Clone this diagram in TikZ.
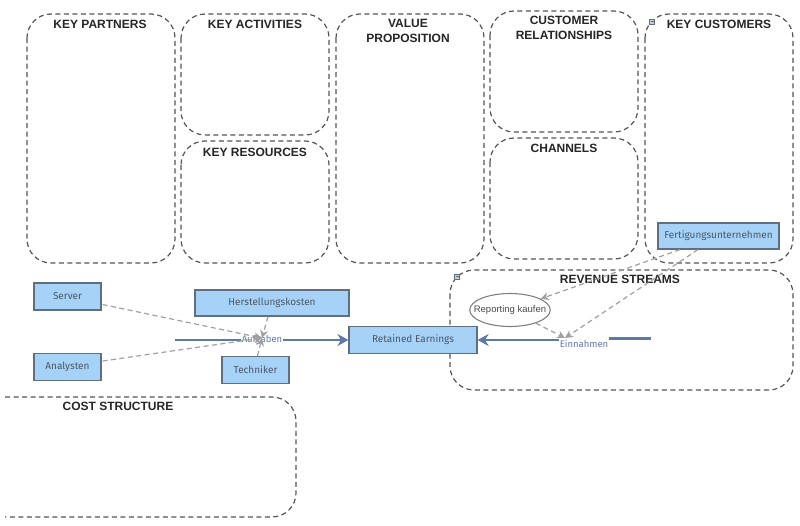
\documentclass[tikz,border=0pt]{standalone}
\usepackage{fontspec}
\setmainfont{Liberation Sans}
\newfontfamily\handfont{Fira Sans}
\usetikzlibrary{arrows.meta,shapes.geometric}
\definecolor{boxfill}{HTML}{A6D2F8}
\definecolor{boxline}{HTML}{5F6F80}
\definecolor{boxtext}{HTML}{4A5866}
\definecolor{flow}{HTML}{5F78A8}
\definecolor{areaink}{HTML}{555555}
\definecolor{linkink}{HTML}{A0A0A0}
\tikzset{
  area/.style={draw=areaink,line width=1.2pt,dash pattern=on 5pt off 3.5pt,rounded corners=24pt},
  areatitle/.style={font=\bfseries\fontsize{12}{14}\selectfont,text=black!85,align=center,inner sep=0pt},
  itembox/.style={draw=boxline,fill=boxfill,line width=1.2pt,font=\handfont\fontsize{10}{12}\selectfont,text=boxtext,inner sep=0pt},
  ovalbox/.style={draw=black!50,line width=1.1pt,ellipse,minimum height=33pt,inner xsep=-7.7pt,inner ysep=0pt,font=\fontsize{9.5}{11}\selectfont,text=black!70,fill=white},
  flowlabel/.style={font=\handfont\fontsize{9.5}{11}\selectfont,text=flow,fill=white,inner sep=1pt},
  flowline/.style={draw=flow,line width=2.6pt},
  flowarrow/.style={flowline,-{Stealth[length=11pt,width=12pt]}},
  linkarrow/.style={draw=linkink,line width=1.2pt,dash pattern=on 5pt off 3.5pt,-{Stealth[length=8pt,width=8pt]}},
  toggle/.style={draw=boxline,fill=black!20,line width=0.5pt,minimum size=5pt,inner sep=0pt}
}
\begin{document}
\begin{tikzpicture}[x=1pt,y=-1pt]
\useasboundingbox (0,0) rectangle (800,525);
\fill[white] (0,0) rectangle (800,525);
% areas
\draw[area] (27,14) rectangle (175,263);
\draw[area] (181,14) rectangle (329,135);
\draw[area] (181,141) rectangle (329,263);
\draw[area] (336,14) rectangle (484,263);
\draw[area] (490,11) rectangle (638,132);
\draw[area] (490,138) rectangle (638,259);
\draw[area] (645,14) rectangle (793,263);
\draw[area] (450,270) rectangle (793,390);
\draw[area] (5,397) -- (296,397) -- (296,517) -- (5,517);
% titles
\node[areatitle] (tpartners) at (100,24) {KEY PARTNERS};
\node[areatitle] (tactivities) at (255,24) {KEY ACTIVITIES};
\node[areatitle] (tresources) at (255,152) {KEY RESOURCES};
\node[areatitle] (tvalue) at (408,31) {VALUE\\[1pt]PROPOSITION};
\node[areatitle] (trel) at (564,28) {CUSTOMER\\[1pt]RELATIONSHIPS};
\node[areatitle] (tchannels) at (564,148) {CHANNELS};
\node[areatitle] (tcustomers) at (719,24) {KEY CUSTOMERS};
\node[areatitle] (trevenue) at (620,279) {REVENUE STREAMS};
\node[areatitle] (tcost) at (118,406) {COST STRUCTURE};
\node[toggle] (tog1) at (652,21.5) {};
\draw[boxline,line width=0.5pt] (650.5,21.5) -- (653.5,21.5);
\node[toggle] (tog2) at (457,276.5) {};
\draw[boxline,line width=0.5pt] (455.5,276.5) -- (458.5,276.5);
% items
\node[itembox,minimum width=67pt,minimum height=27pt] (server) at (67.5,296.5) {Server};
\node[itembox,minimum width=67pt,minimum height=27pt] (analysten) at (67.5,367) {Analysten};
\node[itembox,minimum width=154pt,minimum height=26pt] (herst) at (272,303) {Herstellungskosten};
\node[itembox,minimum width=67pt,minimum height=27pt] (techniker) at (255.5,370) {Techniker};
\node[itembox,minimum width=128pt,minimum height=27pt] (retained) at (413,340) {Retained Earnings};
\node[itembox,minimum width=121pt,minimum height=26pt] (fertigung) at (718.5,236) {Fertigungsunternehmen};
\node[ovalbox] (reporting) at (510,310) {Reporting kaufen};
% flow
\coordinate (flowstart) at (175,340);
\coordinate (flowend) at (651,338.7);
\node[flowlabel] (aufgaben) at (262,340) {Aufgaben};
\node[flowlabel] (einnahmen) at (584,343.5) {Einnahmen};
\draw[flowline] (flowstart) -- (aufgaben);
\draw[flowarrow] (aufgaben) -- (retained);
\draw[flowarrow] (einnahmen.west |- retained.east) -- (retained.east);
\draw[flowline] (einnahmen.east |- flowend) -- (flowend);
% links
\coordinate (auftop) at (262,338);
\coordinate (einnin) at (565,338);
\draw[linkarrow] (server.east) ++(1,8) -- (auftop);
\draw[linkarrow] (analysten.east) ++(1,-6) -- (auftop);
\draw[linkarrow] (herst.south) ++(-4,0) -- (auftop);
\draw[linkarrow] (techniker.north) ++(2,0) -- (auftop);
\draw[linkarrow] (fertigung.south) ++(-38.5,0) -- (reporting.20);
\draw[linkarrow] (fertigung.south) ++(-20.5,0) -- (einnin);
\draw[linkarrow] (reporting.-27) -- (einnin);
\end{tikzpicture}
\end{document}
